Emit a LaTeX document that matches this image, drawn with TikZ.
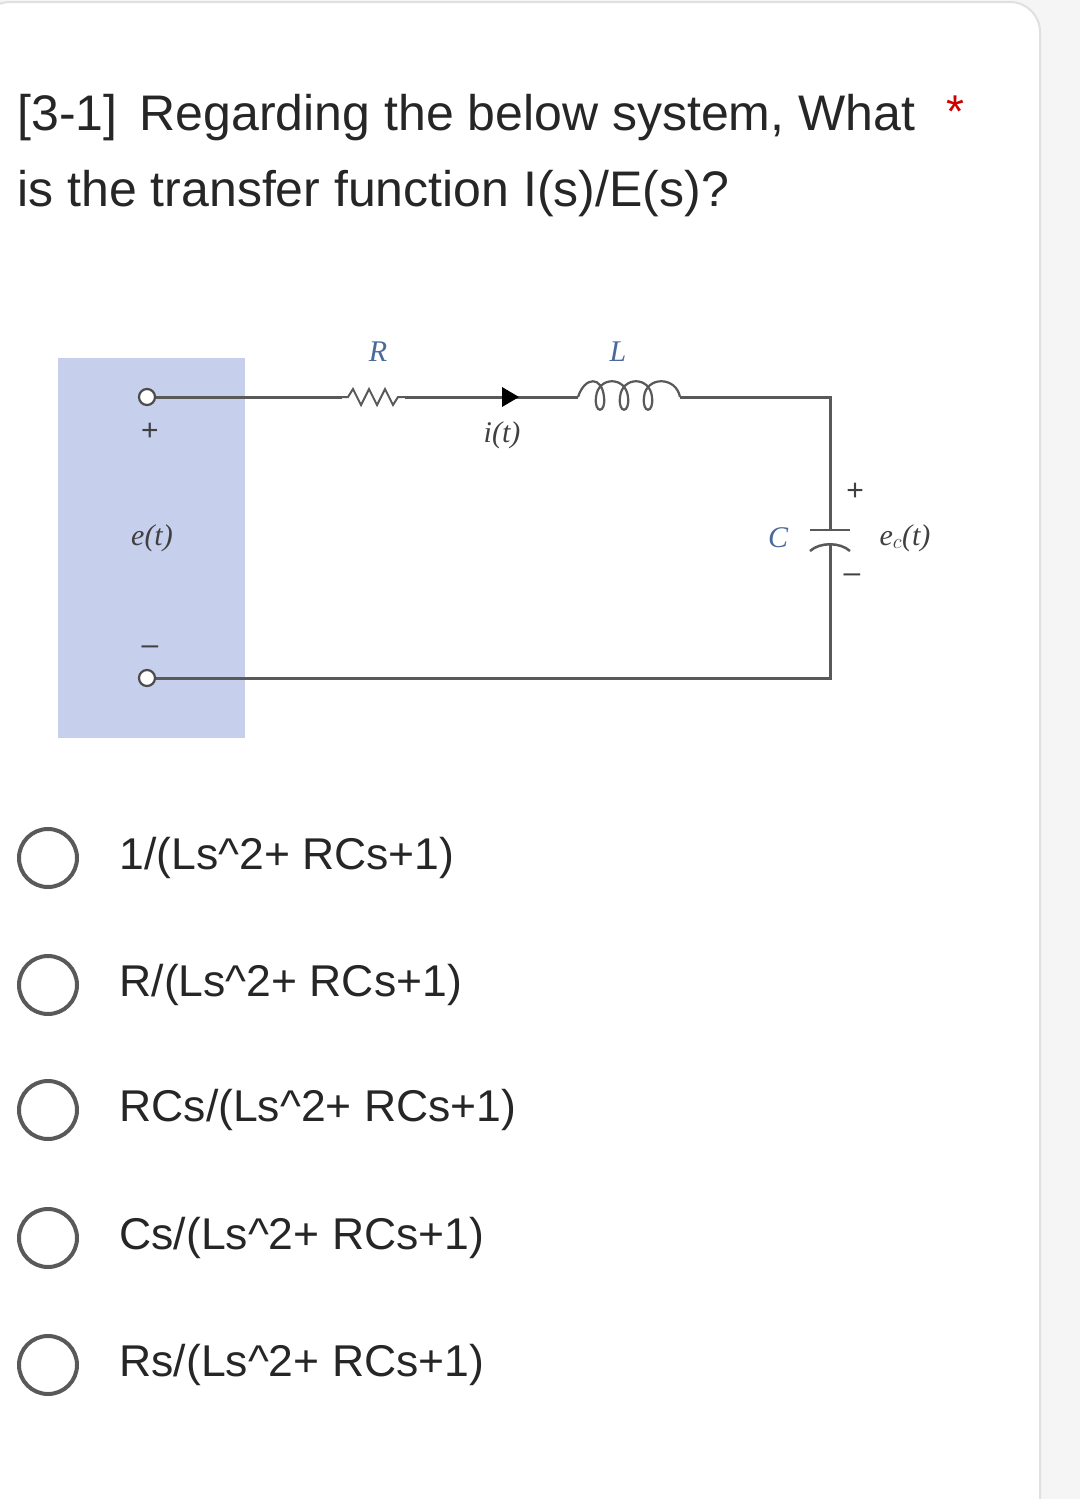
\documentclass[tikz,border=0pt]{standalone}
\usepackage{fontspec}
\setmainfont{Liberation Sans}
\newfontfamily\ser{Liberation Serif}
\definecolor{panel}{HTML}{C6CFEB}
\definecolor{lblue}{HTML}{4A6A9A}
\begin{document}
\begin{tikzpicture}[x=1pt,y=-1pt,
  wire/.style={draw=black!65,line width=3pt},
  lbl/.style={font=\ser\itshape\fontsize{30}{34}\selectfont,text=black!75},
  opt/.style={draw=black!65,line width=4pt,circle,minimum size=58pt,inner sep=0},
  otxt/.style={anchor=west,font=\fontsize{44.5}{52}\selectfont,text=black!85}]
\useasboundingbox (0,0) rectangle (1080,1499);
\fill[black!4] (0,0) rectangle (1080,1499);
\fill[white,draw=black!12,line width=2pt,rounded corners=30pt] (-20,2) rectangle (1040,1540);
\node[anchor=west,font=\fontsize{50}{60}\selectfont,text=black!85] (q1) at (14,118) {[3-1]\, Regarding the below system, What};
\node[font=\fontsize{46}{56}\selectfont,text=red!80!black] (star) at (955,112) {*};
\node[anchor=west,font=\fontsize{50}{60}\selectfont,text=black!85] (q2) at (14,194) {is the transfer function I(s)/E(s)?};
% circuit
\fill[panel] (58,358) rectangle (245,738);
\coordinate (t1) at (147,397); \coordinate (t2) at (147,678);
\coordinate (r1) at (342,397); \coordinate (r2) at (405,397);
\coordinate (l1) at (578,397); \coordinate (l2) at (680,397);
\coordinate (tr) at (830,397); \coordinate (br) at (830,678);
\coordinate (c1) at (830,530); \coordinate (c2) at (830,545);
\draw[wire] (t1) -- (r1);
\draw[wire,line width=2pt] (r1) -- ++(6,0) -- ++(5,-8) -- ++(8,16) -- ++(8,-16) -- ++(8,16) -- ++(8,-16) -- ++(8,16) -- ++(5,-8) -- (r2);
\draw[wire] (r2) -- (l1);
\fill[black] (519,397) -- (502,387) -- (502,407) -- cycle;
\draw[wire,line width=2.2pt] (l1) .. controls (585,376) and (602,376) .. (604,397)
  .. controls (606,414) and (594,414) .. (596,397) .. controls (598,376) and (626,376) .. (628,397)
  .. controls (630,414) and (618,414) .. (620,397) .. controls (622,376) and (650,376) .. (652,397)
  .. controls (654,414) and (642,414) .. (644,397) .. controls (646,376) and (676,376) .. (l2);
\draw[wire] (l2) -- (tr) -- (c1);
\draw[wire] (c2) -- (br) -- (t2);
\draw[wire,line width=2.5pt] (810,530) -- (850,530);
\draw[wire,line width=2.5pt] (810,551) .. controls (820,542) and (840,542) .. (850,551);
\draw[black!70,line width=2.2pt,fill=white] (t1) circle (8);
\draw[black!70,line width=2.2pt,fill=white] (t2) circle (8);
\node[lbl,text=lblue] (R) at (378,352) {R};
\node[lbl,text=lblue] (L) at (618,352) {L};
\node[lbl] (it) at (502,435) {i(t)};
\node[lbl] (et) at (152,538) {e(t)};
\node[lbl,text=lblue] (C) at (778,538) {C};
\node[lbl] (ect) at (905,538) {e$_c$(t)};
\node[font=\fontsize{30}{34}\selectfont,text=black!75] (p1) at (150,432) {+};
\node[font=\fontsize{30}{34}\selectfont,text=black!75] (m1) at (150,650) {\textendash};
\node[font=\fontsize{30}{34}\selectfont,text=black!75] (p2) at (855,492) {+};
\node[font=\fontsize{30}{34}\selectfont,text=black!75] (m2) at (852,578) {\textendash};
% options
\foreach \y/\t [count=\i] in {858/{1}, 985/{R}, 1110/{RCs}, 1238/{Cs}, 1365/{Rs}} {
  \node[opt] (o\i) at (48,\y) {};
  \node[otxt] (ot\i) at (116,\y) {\t/(Ls\textasciicircum2+ RCs+1)};
}
\end{tikzpicture}
\end{document}
